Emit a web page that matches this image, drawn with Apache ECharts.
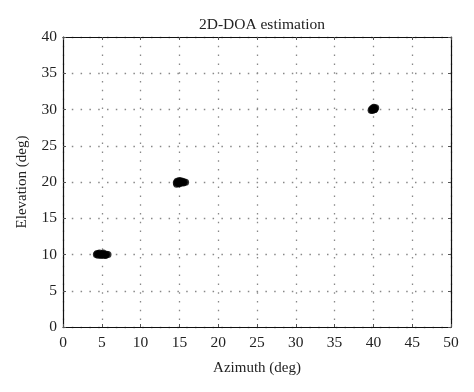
<!DOCTYPE html>
<html>
<head>
<meta charset="utf-8">
<script src="https://cdn.jsdelivr.net/npm/echarts@6/dist/echarts.min.js"></script>
<style>html,body{margin:0;padding:0;background:#fff}#c{width:474px;height:392px}</style>
</head>
<body>
<div id="c"></div>
<script>
var titleText = "2D-DOA estimation";
var xName = "Azimuth (deg)";
var yName = "Elevation (deg)";
var xTicks = [0,5,10,15,20,25,30,35,40,45,50];
var yTicks = [0,5,10,15,20,25,30,35,40];

// estimated DOA points (azimuth, elevation)
var source1 = [[4.3,10.0],[4.5,9.9],[4.6,10.1],[4.8,10.0],[5.0,9.95],[5.1,10.1],[5.3,10.0],[5.5,9.9],[5.6,10.05],[5.8,10.0],[4.4,10.15],[4.9,9.85],[5.2,10.2],[4.7,10.2],[5.4,9.85]];
var source2 = [[14.6,19.9],[14.7,20.1],[14.9,19.8],[15.0,20.2],[15.1,20.0],[15.3,19.9],[15.4,20.1],[15.6,20.0],[15.8,19.95],[14.8,20.0],[15.2,20.15],[15.5,19.85],[14.65,19.7],[15.0,19.75]];
var source3 = [[39.7,29.9],[39.8,30.1],[39.9,30.0],[40.0,30.2],[40.1,29.95],[40.2,30.1],[40.3,30.25],[39.85,29.85],[40.05,30.3],[40.15,30.0]];

var font = "'Liberation Serif', 'DejaVu Serif', serif";
var chart = echarts.init(document.getElementById('c'), null, {renderer:'canvas'});
var axisLine = {show:true, onZero:false, lineStyle:{color:'#111', width:1.2}};
var split = {show:true, lineStyle:{color:'#888', type:[1.5,7.3], width:1.3}};
var tick = {show:true, inside:true, length:3, lineStyle:{color:'#555'}};
chart.setOption({
  animation:false,
  backgroundColor:'#fff',
  title:{text:titleText, left:257, top:12, textAlign:'center',
    textStyle:{fontFamily:font, fontSize:15.5, fontWeight:'normal', color:'#222'}},
  grid:{left:63, right:23, top:37, bottom:65},
  xAxis:[{
    type:'value', position:'bottom', min:xTicks[0], max:xTicks[xTicks.length-1], interval:5,
    name:xName, nameLocation:'middle', nameGap:34,
    nameTextStyle:{fontFamily:font, fontSize:15, color:'#222'},
    axisLine:axisLine, axisTick:tick,
    axisLabel:{fontFamily:font, fontSize:15.5, color:'#222', margin:8},
    splitLine:split
  },{
    type:'value', position:'top', min:xTicks[0], max:xTicks[xTicks.length-1], interval:5,
    axisLine:axisLine, axisTick:tick,
    axisLabel:{show:false}, splitLine:{show:false}
  }],
  yAxis:[{
    type:'value', position:'left', min:yTicks[0], max:yTicks[yTicks.length-1], interval:5,
    name:yName, nameLocation:'middle', nameGap:33,
    nameTextStyle:{fontFamily:font, fontSize:15, color:'#222'},
    axisLine:axisLine, axisTick:tick,
    axisLabel:{fontFamily:font, fontSize:15.5, color:'#222', margin:6},
    splitLine:split
  },{
    type:'value', position:'right', min:yTicks[0], max:yTicks[yTicks.length-1], interval:5,
    axisLine:axisLine, axisTick:tick,
    axisLabel:{show:false}, splitLine:{show:false}
  }],
  series:[
    {type:'scatter', data:source1, symbol:'circle', symbolSize:7, itemStyle:{color:'#000'}},
    {type:'scatter', data:source2, symbol:'circle', symbolSize:7, itemStyle:{color:'#000'}},
    {type:'scatter', data:source3, symbol:'circle', symbolSize:7, itemStyle:{color:'#000'}}
  ]
});
</script>
</body>
</html>
